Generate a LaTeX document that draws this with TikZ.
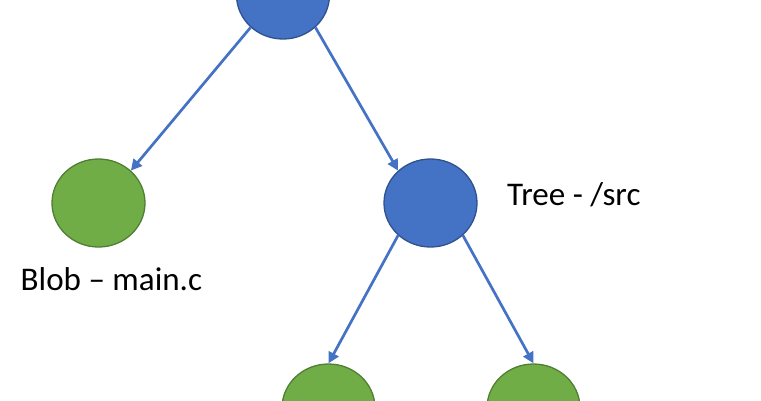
\documentclass[tikz,border=0pt]{standalone}
\usepackage{fontspec}
\setmainfont{Carlito}
\usetikzlibrary{shapes.geometric,arrows.meta}
\definecolor{bluefill}{HTML}{4472C4}
\definecolor{blueedge}{HTML}{2F528F}
\definecolor{greenfill}{HTML}{70AD47}
\definecolor{greenedge}{HTML}{507E32}
\tikzset{
  treenode/.style={ellipse, minimum width=93bp, minimum height=88bp, inner sep=0pt, line width=1.3bp},
  bluenode/.style={treenode, fill=bluefill, draw=blueedge},
  greennode/.style={treenode, fill=greenfill, draw=greenedge},
  link/.style={draw=bluefill, line width=2.7bp, -{Triangle[length=11bp,width=11bp]}},
  lbl/.style={anchor=base west, inner sep=0pt, font=\fontsize{33.2pt}{40pt}\selectfont}
}
\begin{document}
\begin{tikzpicture}[x=1bp,y=-1bp]
\clip (0,0) rectangle (761,400);
\fill[white] (0,0) rectangle (761,400);
\node[bluenode] (root) at (283,-5) {};
\node[greennode] (blob) at (98.5,203) {};
\node[bluenode] (src) at (430.5,203) {};
\node[greennode] (leafa) at (328.5,408) {};
\node[greennode] (leafb) at (533.5,408) {};
\node[lbl] (bloblabel) at (20.5,290) {Blob – main.c};
\node[lbl] (srclabel) at (507,205) {Tree - /src};
\draw[link] (root.-135) -- (blob.45);
\draw[link] (root.-45) -- (src.135);
\draw[link] (src.-135) -- (leafa.north);
\draw[link] (src.-45) -- (leafb.north);
\end{tikzpicture}
\end{document}
